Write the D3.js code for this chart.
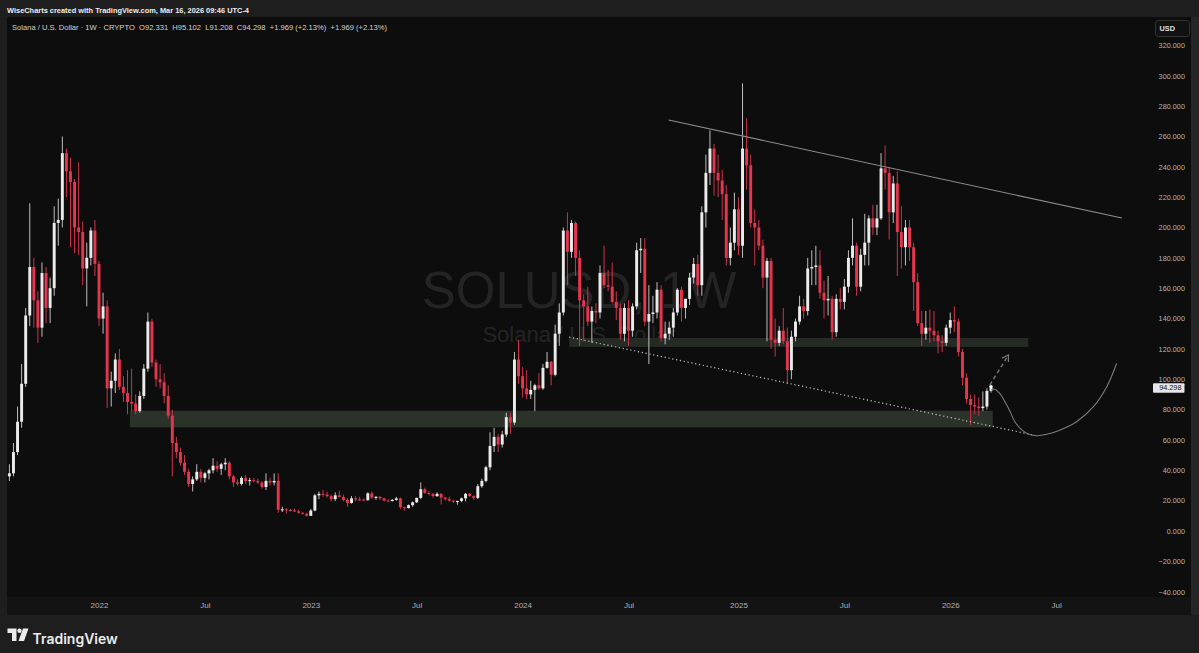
<!DOCTYPE html>
<html><head><meta charset="utf-8">
<script src="https://cdn.jsdelivr.net/npm/d3@7"></script>
<style>
html,body{margin:0;padding:0;background:#1e1e1e;overflow:hidden}
svg{display:block}
</style></head><body>
<svg id="chart" width="1199" height="653"></svg>
<script>
// ---------------- DATA ----------------
const firstWeek = "2021-08-02"; // Monday of first weekly bar
// rows: [open, high, low, close]
const candles2021 = [
[36,44,33,38],[38,58,36,52],[52,82,50,72],[72,110,68,97],[97,147,95,142],[142,216,135,174],
[174,180,134,152],[152,158,124,134],[134,177,128,170],[170,174,137,147],[147,167,137,160],
[160,214,155,203],[203,219,188,205],[205,260,200,249],[249,252,220,237],[237,246,187,230],
[230,232,183,200],[200,243,182,197],[197,204,162,173],[173,190,148,180],[180,200,175,198],
[198,205,168,176]];
const candles2022 = [
[176,178,135,140],[140,157,130,148],[148,152,81,94],[94,105,82,99],[99,117,91,113],
[113,120,93,95],[95,102,85,91],[91,106,77,85],[85,107,79,84],[84,90,77,79],[79,92,78,89],
[89,110,87,107],[107,144,105,138],[138,140,108,111],[111,113,95,100],[100,110,94,98],
[98,104,84,89],[89,96,74,76],[76,80,36,58],[58,62,48,52],[52,55,43,45],[45,50,37,39],
[39,41,29,31],[31,36,26,34],[34,44,33,39],[39,41,32,35],[35,39,32,38],[38,41,34,40],
[40,48,38,43],[43,46,39,41],[41,45,37,44],[44,48,40,45],[45,46,34,36],[36,37,29,32],
[32,34,30,31],[31,36,30,35],[35,37,31,33],[33,35,30,33.5],[33.5,35,32,33],[33,34.5,31,32],
[32,33,28,29],[29,38,27,33],[33,35,30,32],[32,38,30,33],[33,38,12,14],[14,16,12.5,14.3],
[14.3,15,11.5,13.8],[13.8,14.6,12.8,13.5],[13.5,14.7,12.7,13],[13,13.9,11.5,12],
[12,12.4,10.8,11.4],[11.4,12,9.6,10]];
const candles2023 = [
[10,14.5,9.9,13.5],[13.5,24.5,13,23.5],[23.5,26,21,24.5],[24.5,27,22.5,24],[24,26,22,23],
[23,24,19.5,21],[21,25.5,19.7,23.5],[23.5,26.5,22,22.5],[22.5,24,19.5,20.5],[20.5,21.5,16,18.5],
[18.5,23,18,21.5],[21.5,23,19.5,20.8],[20.8,22.5,19.8,20.7],[20.7,21.5,19.5,20.3],
[20.3,25.5,20,24.8],[24.8,26,21,22],[22,23,20.5,22.5],[22.5,23,20.5,21.5],[21.5,22,19.5,20],
[20,21,19.5,19.7],[19.7,21,19.5,20.5],[20.5,22.5,20,21.5],[21.5,22,14.5,15.7],[15.7,16,13.5,15.1],
[15.1,17.5,14.8,17],[17,19.5,16,18.9],[18.9,22,18.5,21.8],[21.8,32,21,27.5],[27.5,28.5,24.5,25],
[25,26.5,23.5,24.5],[24.5,25,22,23],[23,25.5,22.5,24.5],[24.5,25,17.5,22],[22,22.5,20,21],
[21,22.5,19.5,20],[20,20.5,18.5,19.3],[19.3,20,17.3,19.8],[19.8,22,19,21.5],[21.5,25,19.5,24.5],
[24.5,25,22.5,23],[23,23.5,20.5,21.8],[21.8,31,21,29.5],[29.5,34.5,28.5,33],[33,43,32,42],
[42,65,40,56],[56,68,52,62],[62,64,52,57],[57,66,55,63.6],[63.6,78,62,75],[75,78,64,71.5],
[71.5,118,70,113],[113,126,97,102]];
const candles2024 = [
[102,108,88,94],[94,106,87,90],[90,99,87,93],[93,97,79,96],[96,104,93,94],[94,110,93,107.5],
[107.5,118,107,111.5],[111.5,112,96,103],[103,136,102,130],[130,150,122,144],[144,200,142,198],
[198,210,162,184],[184,205,180,203],[203,204,168,180],[180,185,122,152],[152,156,125,148],
[148,161,135,138],[138,148,124,145],[145,150,137,144],[144,175,140,170],[170,188,160,162],
[162,172,158,161],[161,177,150,151],[151,158,139,147],[147,150,126,130],[130,150,125,147],
[147,152,122,132],[132,150,128,148],[148,190,146,185],[185,193,170,186],[186,193,135,138],
[138,162,110,143],[143,155,137,144],[144,164,140,159],[159,162,125,127],[127,138,123,130],
[130,138,126,134],[134,147,128,144],[144,160,142,159],[159,161,138,147],[147,153,140,153],
[153,170,149,167],[167,180,163,176],[176,182,155,162],[162,214,155,210],[210,248,200,236],
[236,264,228,252],[252,255,221,236],[236,248,220,231],[231,238,205,222],[222,228,175,180],
[180,200,175,190],[190,223,185,212]];
const candles2025 = [
[212,220,182,188],[188,295,180,252],[252,272,225,241],[241,248,200,203],[203,212,175,200],
[200,205,185,188],[188,192,160,167],[167,180,125,178],[178,180,120,126],[126,140,115,124],
[124,135,122,132],[132,147,123,125],[125,134,97,106],[106,132,100,128],[128,140,125,138],
[138,155,136,148],[148,153,140,145],[145,180,142,173],[173,185,162,174],[174,188,162,175],
[175,185,153,157],[157,165,140,152],[152,168,142,153],[153,155,126,131],[131,156,128,153],
[153,160,146,151],[151,166,146,161],[161,185,157,180],[180,206,175,188],[188,190,155,161],
[161,186,158,182],[182,209,175,190],[190,208,175,206],[206,215,195,200],[200,215,195,206],
[206,249,205,239],[239,254,225,236],[236,240,192,210],[210,234,203,229],[229,237,168,197],
[197,214,173,187],[187,205,175,200],[200,205,178,187],[187,190,145,164],[164,170,135,137],
[137,145,122,130],[130,145,126,134],[134,146,124,132],[132,145,125,129],[129,132,117,125],
[125,129,118,124],[124,136,122,134]];
const candles2026 = [
[134,144,130,139],[139,148,131,138],[138,140,115,118],[118,120,96,101],[101,104,84,87],
[87,90,70,83],[83,90,77,82],[82,88,76,81],[81,92,79,82],[82,94,80,92.331],
[92.331,95.102,91.208,94.298]];

const priceTicks = [-40,-20,0,20,40,60,80,100,120,140,160,180,200,220,240,260,280,300,320];
const timeTickDates = ["2022-01-03","2022-07-04","2023-01-02","2023-07-03","2024-01-01","2024-07-01","2025-01-06","2025-07-07","2026-01-05","2026-07-06"];
const timeTickLabels = ["2022","Jul","2023","Jul","2024","Jul","2025","Jul","2026","Jul"];

// drawings (date, price)
const resistanceLine = [["2024-09-08",270.8],["2026-10-27",206.3]];
const supportLine = [["2024-03-21",127.8],["2026-05-31",63]];
const upperZone = [["2024-03-21",121.3],["2026-05-19",127.2]];
const lowerZone = [["2022-02-25",68.3],["2026-03-19",79.3]];
const arrowLine = [["2026-03-14",96.2],["2026-04-15",116]];
const projDates = ["2026-03-17","2026-03-21","2026-03-31","2026-04-09","2026-04-18","2026-04-26","2026-05-08","2026-05-19","2026-06-02","2026-06-20","2026-07-13","2026-08-10","2026-09-08","2026-10-01","2026-10-18"];
const projPrices = [92.9,93.6,90.7,85.2,78.6,72.0,66.6,63.9,62.8,63.7,66.6,72.0,81.9,95.1,110.5];

const lastPrice = 94.298;

// ---------------- CHART ----------------
const svg = d3.select("#chart");
const P = {left:7, right:1143, top:17, bottom:597};

const rows = [].concat(candles2021, candles2022, candles2023, candles2024, candles2025, candles2026);
const start = new Date(firstWeek + "T00:00:00Z");
const bars = rows.map((r,i)=>({date:d3.utcMonday.offset(start,i), o:r[0], h:r[1], l:r[2], c:r[3]}));

const pd = s => new Date(s + "T00:00:00Z");
const x = d3.scaleUtc().domain([pd("2022-01-03"), pd("2026-03-16")]).range([99, 991]);
const y = d3.scaleLinear().domain([0, 320]).range([531, 45.4]);

// backgrounds
svg.append("rect").attr("x",0).attr("y",0).attr("width",1199).attr("height",653).attr("fill","#1e1e1e");
svg.append("rect").attr("x",7).attr("y",17).attr("width",1184).attr("height",597.5).attr("fill","#0d0d0d");
svg.append("rect").attr("x",7).attr("y",P.bottom).attr("width",1184).attr("height",17.5).attr("fill","#131313");
svg.append("rect").attr("x",1191).attr("y",17).attr("width",8).attr("height",597.5).attr("fill","#262626");

svg.append("defs").append("clipPath").attr("id","plotclip")
  .append("rect").attr("x",P.left).attr("y",P.top).attr("width",P.right-P.left).attr("height",P.bottom-P.top);

// watermark
const wm = svg.append("g").attr("font-family","'Liberation Sans', Arial, sans-serif").attr("fill","#242424").attr("text-anchor","middle");
wm.append("text").attr("x",579).attr("y",308).attr("font-size",51).text("SOLUSD, 1W");
wm.append("text").attr("x",579).attr("y",342).attr("font-size",22).text("Solana / U.S. Dollar");

const g = svg.append("g").attr("clip-path","url(#plotclip)");

// zones
function zone(z, fill){
  g.append("rect")
    .attr("x", x(pd(z[0][0]))).attr("width", x(pd(z[1][0])) - x(pd(z[0][0])))
    .attr("y", y(z[1][1])).attr("height", y(z[0][1]) - y(z[1][1]))
    .attr("fill", fill);
}
zone(lowerZone, "#2b322a");
zone(upperZone, "#252a24");

// candles
const step = x(d3.utcMonday.offset(start,1)) - x(start);
const bw = step*0.72;
const up = "#ebebeb", dn = "#e5354f";
const cg = g.append("g");
cg.selectAll("line.wick").data(bars).join("line")
  .attr("x1", d=>x(d.date)).attr("x2", d=>x(d.date))
  .attr("y1", d=>y(d.h)).attr("y2", d=>y(d.l))
  .attr("stroke", d=> d.c>=d.o ? "#bdbdbd" : "#cc3349").attr("stroke-width",1);
cg.selectAll("rect.body").data(bars).join("rect")
  .attr("x", d=>x(d.date)-bw/2).attr("width", bw)
  .attr("y", d=>y(Math.max(d.o,d.c)))
  .attr("height", d=>Math.max(1, Math.abs(y(d.o)-y(d.c))))
  .attr("fill", d=> d.c>=d.o ? up : dn);

// lines
const lineGen = d3.line().x(d=>x(pd(d[0]))).y(d=>y(d[1]));
g.append("path").attr("d", lineGen(resistanceLine)).attr("stroke","#8c8c8c").attr("stroke-width",1.1).attr("fill","none");
g.append("path").attr("d", lineGen(supportLine)).attr("stroke","#b8b8b8").attr("stroke-width",1.2)
  .attr("stroke-dasharray","1.3,2.6").attr("fill","none");

// projection curve
const proj = projDates.map((d,i)=>[d, projPrices[i]]);
g.append("path").attr("d", d3.line().x(d=>x(pd(d[0]))).y(d=>y(d[1])).curve(d3.curveCatmullRom)(proj))
  .attr("stroke","#7c7c7c").attr("stroke-width",1.1).attr("fill","none");

// dashed arrow
const a0 = [x(pd(arrowLine[0][0])), y(arrowLine[0][1])];
const a1 = [x(pd(arrowLine[1][0])), y(arrowLine[1][1])];
g.append("line").attr("x1",a0[0]).attr("y1",a0[1]).attr("x2",a1[0]).attr("y2",a1[1])
  .attr("stroke","#777").attr("stroke-width",1.4).attr("stroke-dasharray","4,3");
const ang = Math.atan2(a1[1]-a0[1], a1[0]-a0[0]);
const hl = 7;
const ah = [[a1[0]-hl*Math.cos(ang-0.55), a1[1]-hl*Math.sin(ang-0.55)], a1, [a1[0]-hl*Math.cos(ang+0.55), a1[1]-hl*Math.sin(ang+0.55)]];
g.append("path").attr("d", d3.line()(ah)).attr("stroke","#777").attr("stroke-width",1.2).attr("fill","none");

// last price dot
const lb = bars[bars.length-1];
g.append("circle").attr("cx", x(lb.date)).attr("cy", y(lb.h)).attr("r",1.8).attr("fill","#ffffff");

// price axis
const font = "'Liberation Sans', Arial, sans-serif";
const yAxis = d3.axisRight(y).tickValues(priceTicks).tickSize(0).tickPadding(0)
  .tickFormat(v => (v<0?"\u2212":"") + d3.format(".3f")(Math.abs(v)));
const ya = svg.append("g").attr("transform","translate(1185,0)").call(yAxis);
ya.select(".domain").remove();
ya.selectAll("text").attr("text-anchor","end").attr("x",0).attr("dy","0.32em")
  .attr("fill","#b4b4b4").attr("font-size",7.3).attr("font-family",font);

// last price label
svg.append("rect").attr("x",1153).attr("y",y(lastPrice)-4.6).attr("width",31.5).attr("height",9.4).attr("fill","#e6e6e6").attr("rx",1);
svg.append("text").attr("x",1181.5).attr("y",y(lastPrice)).attr("dy","0.34em").attr("text-anchor","end")
  .attr("font-size",7.3).attr("font-family",font).attr("fill","#111").text(d3.format(".3f")(lastPrice));

// USD box
svg.append("rect").attr("x",1155.5).attr("y",20.5).attr("width",34).attr("height",16).attr("rx",3)
  .attr("fill","#111").attr("stroke","#333");
svg.append("text").attr("x",1159.5).attr("y",31).attr("font-size",7.3).attr("font-weight","bold")
  .attr("font-family",font).attr("fill","#e0e0e0").text("USD");

// time axis
const xAxis = d3.axisBottom(x).tickValues(timeTickDates.map(pd)).tickSize(0).tickPadding(0)
  .tickFormat((d,i)=>timeTickLabels[i]);
const xa = svg.append("g").attr("transform","translate(0,608)").call(xAxis);
xa.select(".domain").remove();
xa.selectAll("text").attr("dy",0).attr("y",0).attr("fill","#b0b0b0").attr("font-size",8).attr("font-family",font);

// header texts
svg.append("text").attr("x",7).attr("y",12.5).attr("font-size",8).attr("font-weight","bold")
  .attr("font-family",font).attr("fill","#eeeeee").attr("textLength",242).attr("lengthAdjust","spacingAndGlyphs")
  .text("WiseCharts created with TradingView.com, Mar 16, 2026 09:46 UTC-4");
svg.append("text").attr("x",12).attr("y",29.5).attr("font-size",7.5)
  .attr("font-family",font).attr("fill","#d4d4d4").attr("textLength",375).attr("lengthAdjust","spacingAndGlyphs")
  .attr("xml:space","preserve")
  .text("Solana / U.S. Dollar \u00b7 1W \u00b7 CRYPTO  O92.331  H95.102  L91.208  C94.298  +1.969 (+2.13%)  +1.969 (+2.13%)");

// TradingView logo
const logo = svg.append("g").attr("fill","#ececec");
logo.append("path").attr("d","M7.5,628.5 H16.5 V641 H12 V633 H7.5 Z");
logo.append("circle").attr("cx",19.5).attr("cy",630.7).attr("r",2.2);
logo.append("path").attr("d","M23,628.5 H28.5 L24,641 H18.5 Z");
svg.append("text").attr("x",32.5).attr("y",643.5).attr("font-size",14).attr("font-weight",600)
  .attr("font-family","Inter, 'Liberation Sans', Arial, sans-serif").attr("fill","#ececec").text("TradingView");
</script>
</body></html>
